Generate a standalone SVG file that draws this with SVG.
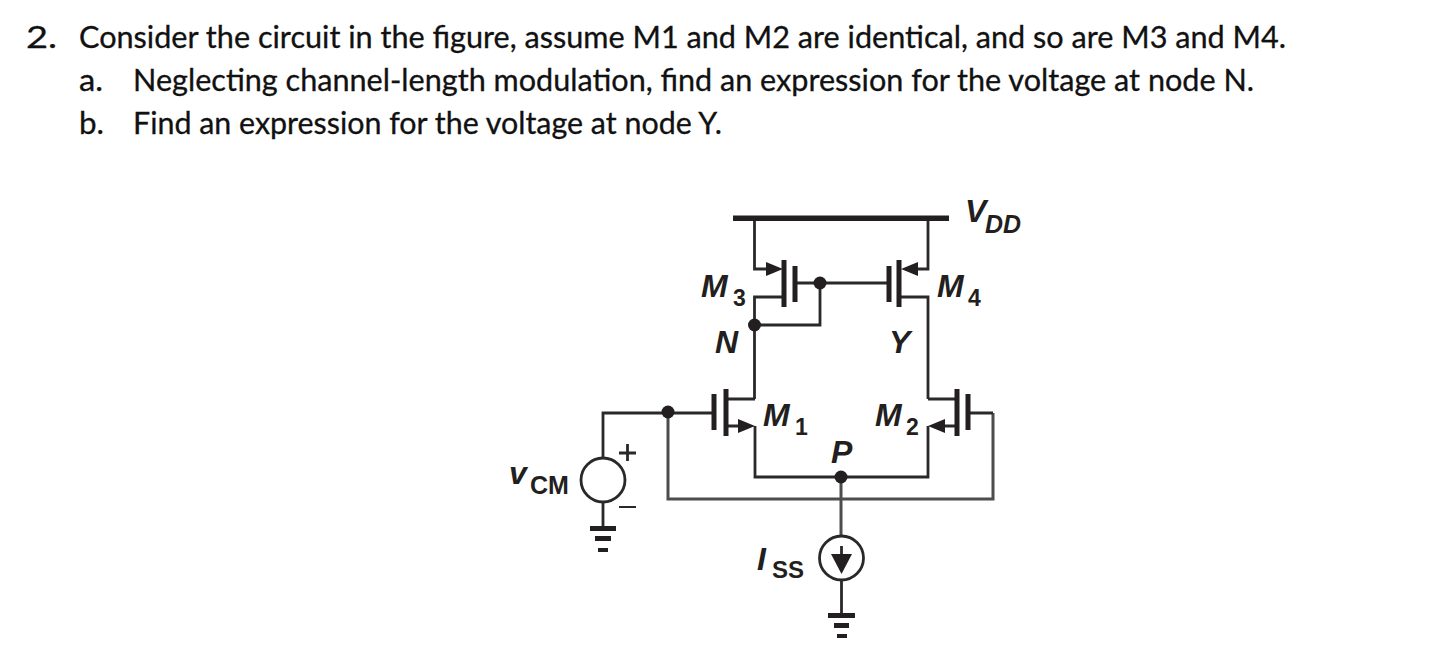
<svg xmlns="http://www.w3.org/2000/svg" width="1450" height="672" viewBox="0 0 1450 672">
<style>
.q{font-family:Lato,"Liberation Sans",sans-serif;font-size:30px;fill:#111;stroke:#111;stroke-width:.3}
.l{font-family:"Liberation Sans",Arial,sans-serif;font-style:italic;font-weight:bold;font-size:32px;fill:#231f20}
.s{font-family:"Liberation Sans",Arial,sans-serif;font-weight:bold;font-size:23px;fill:#231f20}
.d{font-size:26px}
.w{fill:none;stroke:#2a2829;stroke-width:2.8}
.g{fill:none;stroke:#4d4d4d;stroke-width:3}
.b{fill:#231f20}
.c{fill:#fff;stroke:#2a2829;stroke-width:2.8}
</style>
<rect width="1450" height="672" fill="#fff"/>
<g id="question">
<text class="q" x="26" y="48" textLength="31" lengthAdjust="spacingAndGlyphs">2.</text>
<text class="q" x="79" y="48" textLength="1207" lengthAdjust="spacingAndGlyphs">Consider the circuit in the figure, assume M1 and M2 are identical, and so are M3 and M4.</text>
<text class="q" x="79" y="91" textLength="24" lengthAdjust="spacingAndGlyphs">a.</text>
<text class="q" x="133" y="91" textLength="1121" lengthAdjust="spacingAndGlyphs">Neglecting channel-length modulation, find an expression for the voltage at node N.</text>
<text class="q" x="79" y="134" textLength="25" lengthAdjust="spacingAndGlyphs">b.</text>
<text class="q" x="133" y="134" textLength="589" lengthAdjust="spacingAndGlyphs">Find an expression for the voltage at node Y.</text>
</g>
<g id="connectors">
<path class="w" d="M754.500 218V269H768M928 218V269H915"/>
<path class="w" d="M784 297H754.500V399M899 297H928V399"/>
<path class="w" d="M754.500 325H820V283M795 283H889"/>
<path class="w" d="M726 399H755M957 399H928"/>
<path class="w" d="M726 426H742M957 426H942M755 426V477H928V426"/>
<path class="g" d="M668 413V499H993V413"/>
<path class="w" d="M968 413H993M668 413H714M668 413H603V458"/>
<path class="g" d="M841 477V536"/>
<path class="w" d="M603 502V528M841.500 580V615"/>
</g>
<g id="VDD"><rect class="b" x="733" y="215.500" width="216" height="5.500"/>
<text class="l" x="965" y="222">V</text><text class="l d" x="985" y="233" textLength="36" lengthAdjust="spacingAndGlyphs">DD</text></g>
<g id="M3"><rect class="b" x="781.500" y="260" width="5" height="47"/><rect class="b" x="792.500" y="266" width="5" height="36"/><path class="b" d="M766 262L783 269L766 276Z"/>
<text class="l" x="701" y="297">M</text><text class="s" x="733" y="306">3</text></g>
<g id="M4"><rect class="b" x="886.500" y="266" width="5" height="36"/><rect class="b" x="896.500" y="260" width="5" height="47"/><path class="b" d="M918 262L901 269L918 276Z"/>
<text class="l" x="937" y="297">M</text><text class="s" x="968" y="306">4</text></g>
<g id="M1"><rect class="b" x="711.500" y="394" width="5" height="36"/><rect class="b" x="723.500" y="389" width="5" height="47"/><path class="b" d="M738 419L755 426L738 433Z"/>
<text class="l" x="763" y="426">M</text><text class="s" x="795" y="435">1</text></g>
<g id="M2"><rect class="b" x="954.500" y="389" width="5" height="47"/><rect class="b" x="965.500" y="394" width="5" height="36"/><path class="b" d="M945 419L928 426L945 433Z"/>
<text class="l" x="875" y="426">M</text><text class="s" x="906" y="435">2</text></g>
<g id="N"><circle class="b" cx="754.500" cy="325" r="6.500"/><text class="l" x="715" y="353">N</text></g>
<g id="gate-node"><circle class="b" cx="820" cy="283" r="6.500"/></g>
<g id="Y"><text class="l" x="889" y="353">Y</text></g>
<g id="input-node"><circle class="b" cx="668" cy="412" r="6.500"/></g>
<g id="P"><circle class="b" cx="841" cy="477" r="6.500"/><text class="l" x="831" y="463">P</text></g>
<g id="VCM"><circle class="c" cx="603" cy="480" r="22"/>
<text class="l" x="509" y="484">v</text><text class="s" x="530" y="494" style="font-size:25px">CM</text>
<path class="w" d="M619 453H636M627.500 444V461"/><path d="M619 507H636" fill="none" stroke="#2a2829" stroke-width="2"/>
<rect class="b" x="590" y="526" width="26" height="5"/><rect class="b" x="595" y="536" width="16" height="5"/><rect class="b" x="598" y="548" width="10" height="4"/></g>
<g id="ISS"><circle class="c" cx="841.500" cy="558" r="22"/><path class="w" d="M841.500 546V555"/><path class="b" d="M831 554H852L841.500 574Z"/>
<text class="l" x="757" y="570">I</text><text class="s" x="772" y="578" style="font-size:24px">SS</text>
<rect class="b" x="828" y="613" width="27" height="5"/><rect class="b" x="834" y="623" width="15" height="5"/><rect class="b" x="837" y="634" width="10" height="4"/></g>
</svg>
